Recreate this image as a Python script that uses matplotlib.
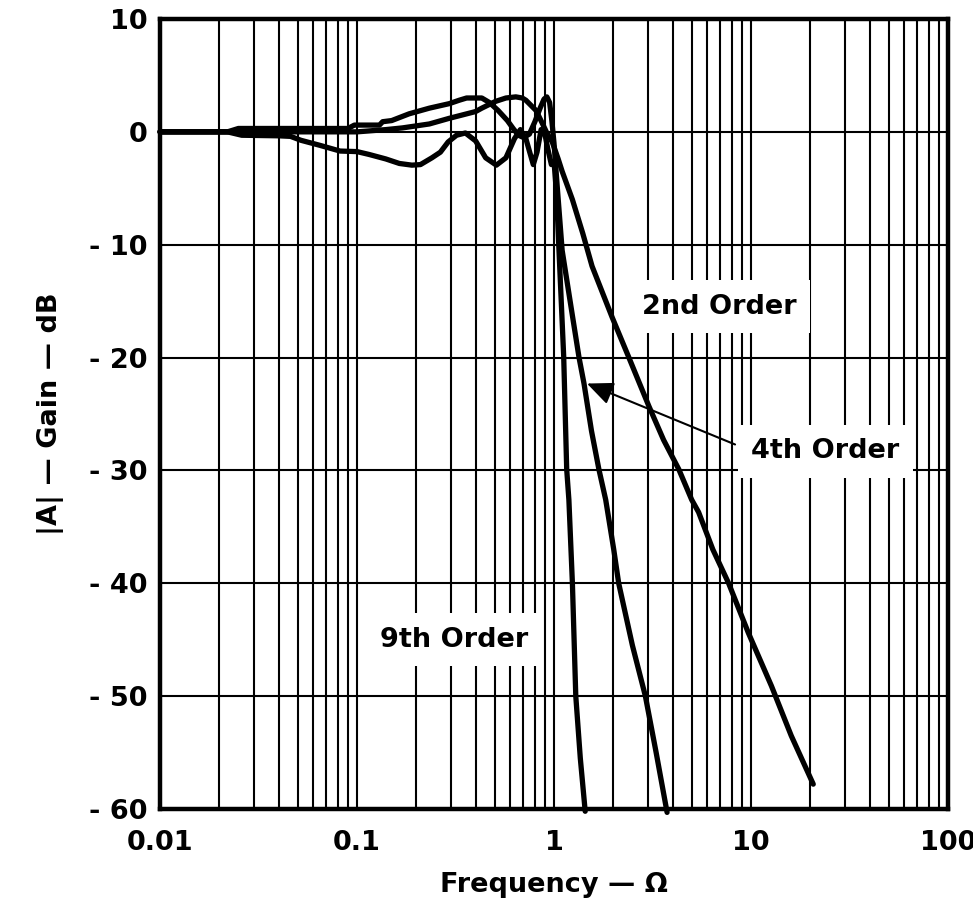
import numpy as np
import matplotlib
matplotlib.use("Agg")
import matplotlib.pyplot as plt

# Gain responses of 3 dB ripple Tschebyscheff low-pass filters
f_2nd = [0.01, 0.1, 0.14, 0.17, 0.233, 0.294, 0.343, 0.40, 0.43, 0.505, 0.57, 0.64,
         0.69, 0.72, 0.81, 0.87, 0.92, 0.98, 1.05, 1.1, 1.24, 1.4, 1.56, 1.97, 2.4,
         3.03, 3.6, 4.3, 5.0, 5.42, 6.4, 7.7, 9.7, 12.7, 16.0, 20.7]
g_2nd = [0.0, 0.0, 0.2, 0.35, 0.7, 1.2, 1.5, 1.8, 2.1, 2.7, 3.0, 3.1,
         3.0, 2.8, 1.9, 0.8, -0.1, -0.9, -2.4, -3.5, -6.0, -9.0, -11.9, -16.4, -20.0,
         -24.3, -27.3, -29.9, -32.6, -33.7, -37.0, -40.0, -44.4, -49.1, -53.5, -57.8]

f_4th = [0.01, 0.022, 0.025, 0.09, 0.097, 0.13, 0.135, 0.15, 0.184, 0.233, 0.294,
         0.33, 0.36, 0.43, 0.47, 0.52, 0.58, 0.62, 0.66, 0.70, 0.75, 0.80, 0.85,
         0.89, 0.92, 0.95, 0.975, 1.0, 1.04, 1.10, 1.22, 1.34, 1.42, 1.55, 1.69,
         1.83, 2.01, 2.13, 2.5, 2.91, 3.3, 3.75]
g_4th = [0.0, 0.0, 0.3, 0.3, 0.6, 0.6, 0.9, 1.0, 1.6, 2.1, 2.5,
         2.8, 3.0, 3.0, 2.6, 1.9, 1.0, 0.3, -0.3, -0.5, -0.2, 0.9, 2.1,
         2.9, 3.1, 2.6, 1.0, -1.0, -5.0, -10.5, -15.5, -20.0, -22.3, -26.5, -29.9,
         -32.6, -37.0, -40.0, -45.5, -50.0, -55.0, -60.3]

f_9th = [0.01, 0.022, 0.026, 0.04, 0.046, 0.052, 0.065, 0.082, 0.1, 0.115, 0.14,
         0.164, 0.19, 0.21, 0.24, 0.265, 0.29, 0.32, 0.355, 0.40, 0.45, 0.51, 0.57,
         0.63, 0.675, 0.72, 0.75, 0.785, 0.82, 0.86, 0.89, 0.93, 0.97, 1.0, 1.03,
         1.06, 1.12, 1.16, 1.19, 1.24, 1.29, 1.36, 1.44]
g_9th = [0.0, 0.0, -0.3, -0.35, -0.4, -0.75, -1.2, -1.7, -1.75, -2.0, -2.4,
         -2.8, -2.95, -2.9, -2.3, -1.8, -0.9, -0.3, -0.1, -0.8, -2.3, -2.95, -2.3,
         -0.6, 0.2, -0.6, -1.7, -2.9, -1.8, 0.2, 0.2, -1.5, -2.9, -2.6, -5.5,
         -10.5, -19.9, -29.9, -32.6, -40.0, -50.0, -55.5, -60.2]

x_ticks = [0.01, 0.1, 1, 10, 100]
x_labels = ["0.01", "0.1", "1", "10", "100"]
y_ticks = [10, 0, -10, -20, -30, -40, -50, -60]
y_labels = ["10", "0", "- 10", "- 20", "- 30", "- 40", "- 50", "- 60"]

plt.rcParams.update({
    "font.family": "DejaVu Sans",
    "font.weight": "bold",
    "axes.labelweight": "bold",
    "font.size": 19.5,
})

fig = plt.figure(figsize=(9.73, 9.23), dpi=100)
ax = fig.add_axes([160/973, 114/923, 788/973, 790/923])

ax.set_xscale("log")
ax.set_xlim(0.01, 100)
ax.set_ylim(-60, 10)

# grid: every decade subdivision vertically, every 10 dB horizontally
ax.grid(True, which="both", axis="x", color="black", lw=1.5)
ax.grid(True, which="major", axis="y", color="black", lw=1.5)
ax.set_axisbelow(True)

curve_kw = dict(color="black", lw=3.8, solid_capstyle="round",
                solid_joinstyle="round", zorder=5, clip_on=False)
ax.plot(f_2nd, g_2nd, **curve_kw)
ax.plot(f_4th, g_4th, **curve_kw)
ax.plot(f_9th, g_9th, **curve_kw)

ax.set_xticks(x_ticks)
ax.set_xticklabels(x_labels)
ax.set_yticks(y_ticks)
ax.set_yticklabels(y_labels)
ax.tick_params(which="both", length=0)
ax.tick_params(axis="x", pad=15)
ax.tick_params(axis="y", pad=9)

for side in ax.spines.values():
    side.set_linewidth(3.2)

box = dict(boxstyle="square,pad=0.5", facecolor="white", edgecolor="none")
ax.text(6.9, -15.5, "2nd Order", ha="center", va="center", bbox=box, zorder=3)
ax.text(23.8, -28.3, "4th Order", ha="center", va="center", bbox=box, zorder=3)
ax.text(0.312, -45.0, "9th Order", ha="center", va="center", bbox=box, zorder=3)

# pointer to the 4th order curve
ax.annotate("", xy=(1.47, -22.3), xytext=(8.3, -27.7),
            arrowprops=dict(arrowstyle="-|>,head_length=0.8,head_width=0.35",
                            color="black", lw=1.5, mutation_scale=20,
                            shrinkA=0, shrinkB=0),
            zorder=6)

ax.set_xlabel("Frequency — Ω", labelpad=12)
ax.set_ylabel("|A| — Gain — dB", labelpad=18)

fig.savefig("out.png", dpi=100)
